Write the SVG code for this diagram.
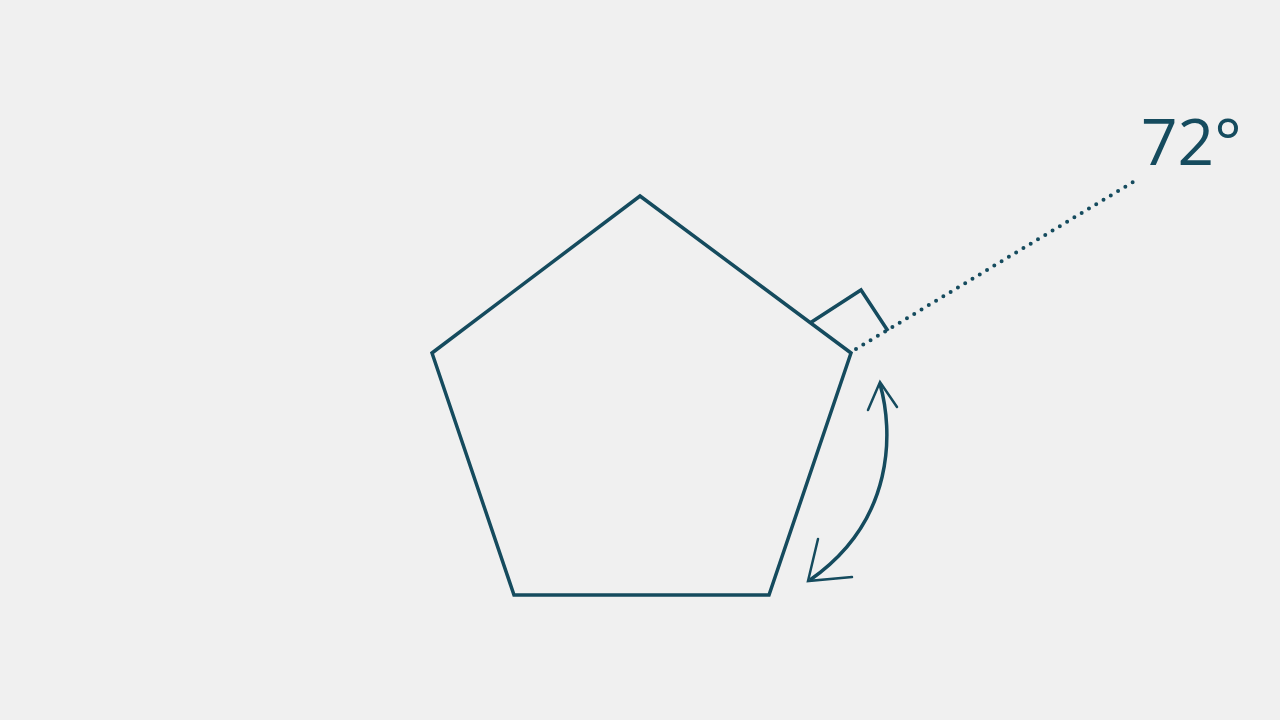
<svg xmlns="http://www.w3.org/2000/svg" width="1280" height="720" viewBox="0 0 1280 720">
<style>
.ln{fill:none;stroke:#154b5e;stroke-width:3.5;stroke-linejoin:miter}
.thin{fill:none;stroke:#154b5e;stroke-width:2.5;stroke-linecap:round}
.dot{fill:none;stroke:#154b5e;stroke-width:4;stroke-linecap:round;stroke-dasharray:0 8.5}
.lbl{font-family:"Open Sans","Noto Sans",sans-serif;font-size:64px;fill:#154b5e}
</style>
<rect width="1280" height="720" fill="#f0f0f0"/>
<g id="pentagon">
<polygon class="ln" points="640,196 851,353 769,595 514,595 432,353"/>
</g>
<g id="connectors">
<polyline class="ln" points="810,323 861,290 888,331"/>
<line class="dot" x1="856" y1="349" x2="1138" y2="179"/>
<path class="ln" d="M880,384 C893,430 896,520 810,580"/>
<polyline class="thin" points="868,410 880,382 897,407"/>
<polyline class="thin" points="818,539 808,581 852,577"/>
</g>
<g id="label">
<text class="lbl" x="1141" y="165">72°</text>
</g>
</svg>
